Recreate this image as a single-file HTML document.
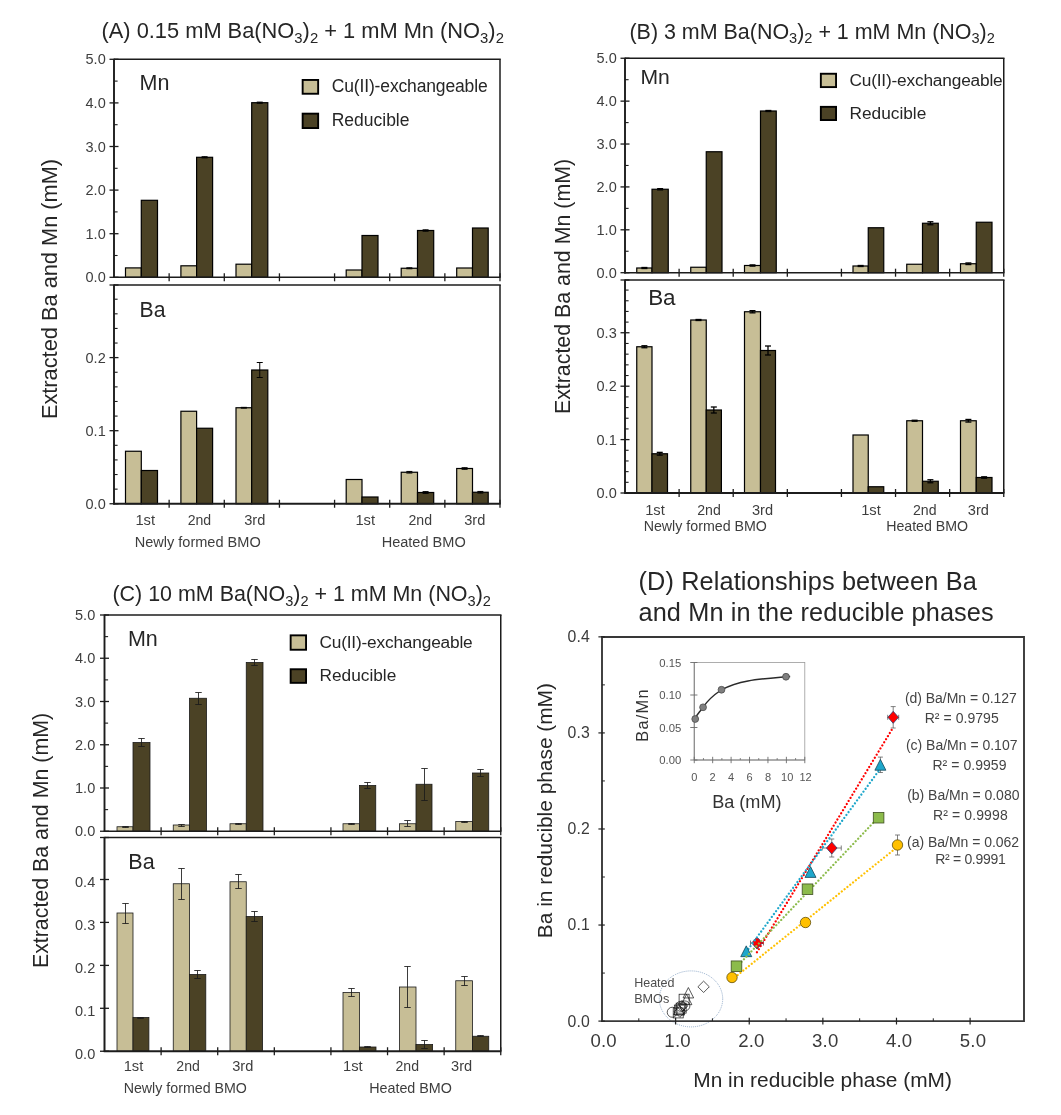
<!DOCTYPE html>
<html lang="en"><head><meta charset="utf-8"><title>Figure</title>
<style>html,body{margin:0;padding:0;background:#fff}svg{display:block}</style></head>
<body>
<svg width="1061" height="1115" viewBox="0 0 1061 1115" font-family="'Liberation Sans', sans-serif">
<rect x="0" y="0" width="1061" height="1115" fill="#ffffff"/>
<g id="panelA">
<text x="101.49" y="38.40" font-size="21.84" fill="#262626" xml:space="preserve"><tspan>(A) 0.15 mM Ba(NO</tspan><tspan font-size="14.85" dy="4.37">3</tspan><tspan dy="-4.37">)</tspan><tspan font-size="14.85" dy="4.37">2</tspan><tspan dy="-4.37"> + 1 mM Mn (NO</tspan><tspan font-size="14.85" dy="4.37">3</tspan><tspan dy="-4.37">)</tspan><tspan font-size="14.85" dy="4.37">2</tspan></text>
<rect x="125.50" y="267.90" width="15.80" height="9.40" fill="#c7be96" stroke="#000" stroke-width="1.2"/>
<rect x="141.30" y="200.30" width="16.20" height="77.00" fill="#4b4225" stroke="#000" stroke-width="1.2"/>
<rect x="180.90" y="265.80" width="15.70" height="11.50" fill="#c7be96" stroke="#000" stroke-width="1.2"/>
<rect x="196.60" y="157.30" width="16.00" height="120.00" fill="#4b4225" stroke="#000" stroke-width="1.2"/>
<line x1="204.60" y1="156.70" x2="204.60" y2="157.90" stroke="#000" stroke-width="1.0"/>
<line x1="201.60" y1="156.70" x2="207.60" y2="156.70" stroke="#000" stroke-width="1.0"/>
<line x1="201.60" y1="157.90" x2="207.60" y2="157.90" stroke="#000" stroke-width="1.0"/>
<rect x="236.00" y="264.20" width="15.70" height="13.10" fill="#c7be96" stroke="#000" stroke-width="1.2"/>
<rect x="251.70" y="102.70" width="16.10" height="174.60" fill="#4b4225" stroke="#000" stroke-width="1.2"/>
<line x1="259.75" y1="102.10" x2="259.75" y2="103.30" stroke="#000" stroke-width="1.0"/>
<line x1="256.75" y1="102.10" x2="262.75" y2="102.10" stroke="#000" stroke-width="1.0"/>
<line x1="256.75" y1="103.30" x2="262.75" y2="103.30" stroke="#000" stroke-width="1.0"/>
<rect x="346.20" y="270.00" width="15.80" height="7.30" fill="#c7be96" stroke="#000" stroke-width="1.2"/>
<rect x="362.00" y="235.50" width="16.00" height="41.80" fill="#4b4225" stroke="#000" stroke-width="1.2"/>
<rect x="401.20" y="268.25" width="16.30" height="9.05" fill="#c7be96" stroke="#000" stroke-width="1.2"/>
<rect x="417.50" y="230.50" width="16.20" height="46.80" fill="#4b4225" stroke="#000" stroke-width="1.2"/>
<line x1="409.35" y1="267.75" x2="409.35" y2="268.75" stroke="#000" stroke-width="1.0"/>
<line x1="406.35" y1="267.75" x2="412.35" y2="267.75" stroke="#000" stroke-width="1.0"/>
<line x1="406.35" y1="268.75" x2="412.35" y2="268.75" stroke="#000" stroke-width="1.0"/>
<line x1="425.60" y1="229.80" x2="425.60" y2="231.20" stroke="#000" stroke-width="1.0"/>
<line x1="422.60" y1="229.80" x2="428.60" y2="229.80" stroke="#000" stroke-width="1.0"/>
<line x1="422.60" y1="231.20" x2="428.60" y2="231.20" stroke="#000" stroke-width="1.0"/>
<rect x="456.70" y="268.00" width="15.80" height="9.30" fill="#c7be96" stroke="#000" stroke-width="1.2"/>
<rect x="472.50" y="228.00" width="15.70" height="49.30" fill="#4b4225" stroke="#000" stroke-width="1.2"/>
<line x1="114.00" y1="59.30" x2="500.75" y2="59.30" stroke="#1c1c1c" stroke-width="1.5"/>
<line x1="500.00" y1="59.30" x2="500.00" y2="277.30" stroke="#1c1c1c" stroke-width="1.5"/>
<line x1="114.00" y1="58.70" x2="114.00" y2="278.05" stroke="#1c1c1c" stroke-width="1.9"/>
<line x1="113.25" y1="277.30" x2="500.60" y2="277.30" stroke="#1c1c1c" stroke-width="1.5"/>
<line x1="169.14" y1="273.30" x2="169.14" y2="281.30" stroke="#1c1c1c" stroke-width="1.3"/>
<line x1="224.29" y1="273.30" x2="224.29" y2="281.30" stroke="#1c1c1c" stroke-width="1.3"/>
<line x1="279.43" y1="273.30" x2="279.43" y2="281.30" stroke="#1c1c1c" stroke-width="1.3"/>
<line x1="334.57" y1="273.30" x2="334.57" y2="281.30" stroke="#1c1c1c" stroke-width="1.3"/>
<line x1="389.71" y1="273.30" x2="389.71" y2="281.30" stroke="#1c1c1c" stroke-width="1.3"/>
<line x1="444.86" y1="273.30" x2="444.86" y2="281.30" stroke="#1c1c1c" stroke-width="1.3"/>
<line x1="500.00" y1="273.30" x2="500.00" y2="281.30" stroke="#1c1c1c" stroke-width="1.3"/>
<line x1="109.50" y1="59.30" x2="118.50" y2="59.30" stroke="#1c1c1c" stroke-width="1.3"/>
<text x="105.72" y="64.40" font-size="14.5" fill="#3e3e3e" text-anchor="end">5.0</text>
<line x1="109.50" y1="102.90" x2="118.50" y2="102.90" stroke="#1c1c1c" stroke-width="1.3"/>
<text x="105.72" y="108.00" font-size="14.5" fill="#3e3e3e" text-anchor="end">4.0</text>
<line x1="109.50" y1="146.50" x2="118.50" y2="146.50" stroke="#1c1c1c" stroke-width="1.3"/>
<text x="105.72" y="151.60" font-size="14.5" fill="#3e3e3e" text-anchor="end">3.0</text>
<line x1="109.50" y1="190.10" x2="118.50" y2="190.10" stroke="#1c1c1c" stroke-width="1.3"/>
<text x="105.72" y="195.20" font-size="14.5" fill="#3e3e3e" text-anchor="end">2.0</text>
<line x1="109.50" y1="233.70" x2="118.50" y2="233.70" stroke="#1c1c1c" stroke-width="1.3"/>
<text x="105.72" y="238.80" font-size="14.5" fill="#3e3e3e" text-anchor="end">1.0</text>
<line x1="109.50" y1="277.30" x2="118.50" y2="277.30" stroke="#1c1c1c" stroke-width="1.3"/>
<text x="105.72" y="282.40" font-size="14.5" fill="#3e3e3e" text-anchor="end">0.0</text>
<line x1="114.00" y1="81.10" x2="117.60" y2="81.10" stroke="#1c1c1c" stroke-width="1.1"/>
<line x1="114.00" y1="124.70" x2="117.60" y2="124.70" stroke="#1c1c1c" stroke-width="1.1"/>
<line x1="114.00" y1="168.30" x2="117.60" y2="168.30" stroke="#1c1c1c" stroke-width="1.1"/>
<line x1="114.00" y1="211.90" x2="117.60" y2="211.90" stroke="#1c1c1c" stroke-width="1.1"/>
<line x1="114.00" y1="255.50" x2="117.60" y2="255.50" stroke="#1c1c1c" stroke-width="1.1"/>
<text x="139.51" y="89.80" font-size="21.5" fill="#262626" text-anchor="start">Mn</text>
<rect x="125.50" y="451.25" width="15.80" height="52.50" fill="#c7be96" stroke="#000" stroke-width="1.2"/>
<rect x="141.30" y="470.50" width="16.20" height="33.25" fill="#4b4225" stroke="#000" stroke-width="1.2"/>
<rect x="180.90" y="411.25" width="15.70" height="92.50" fill="#c7be96" stroke="#000" stroke-width="1.2"/>
<rect x="196.60" y="428.25" width="16.00" height="75.50" fill="#4b4225" stroke="#000" stroke-width="1.2"/>
<rect x="236.00" y="407.75" width="15.70" height="96.00" fill="#c7be96" stroke="#000" stroke-width="1.2"/>
<rect x="251.70" y="370.00" width="16.10" height="133.75" fill="#4b4225" stroke="#000" stroke-width="1.2"/>
<line x1="243.85" y1="407.35" x2="243.85" y2="408.15" stroke="#000" stroke-width="1.0"/>
<line x1="240.85" y1="407.35" x2="246.85" y2="407.35" stroke="#000" stroke-width="1.0"/>
<line x1="240.85" y1="408.15" x2="246.85" y2="408.15" stroke="#000" stroke-width="1.0"/>
<line x1="259.75" y1="362.50" x2="259.75" y2="377.50" stroke="#000" stroke-width="1.0"/>
<line x1="256.75" y1="362.50" x2="262.75" y2="362.50" stroke="#000" stroke-width="1.0"/>
<line x1="256.75" y1="377.50" x2="262.75" y2="377.50" stroke="#000" stroke-width="1.0"/>
<rect x="346.20" y="479.50" width="15.80" height="24.25" fill="#c7be96" stroke="#000" stroke-width="1.2"/>
<rect x="362.00" y="497.00" width="16.00" height="6.75" fill="#4b4225" stroke="#000" stroke-width="1.2"/>
<rect x="401.20" y="472.25" width="16.30" height="31.50" fill="#c7be96" stroke="#000" stroke-width="1.2"/>
<rect x="417.50" y="492.50" width="16.20" height="11.25" fill="#4b4225" stroke="#000" stroke-width="1.2"/>
<line x1="409.35" y1="471.45" x2="409.35" y2="473.05" stroke="#000" stroke-width="1.0"/>
<line x1="406.35" y1="471.45" x2="412.35" y2="471.45" stroke="#000" stroke-width="1.0"/>
<line x1="406.35" y1="473.05" x2="412.35" y2="473.05" stroke="#000" stroke-width="1.0"/>
<line x1="425.60" y1="491.60" x2="425.60" y2="493.40" stroke="#000" stroke-width="1.0"/>
<line x1="422.60" y1="491.60" x2="428.60" y2="491.60" stroke="#000" stroke-width="1.0"/>
<line x1="422.60" y1="493.40" x2="428.60" y2="493.40" stroke="#000" stroke-width="1.0"/>
<rect x="456.70" y="468.50" width="15.80" height="35.25" fill="#c7be96" stroke="#000" stroke-width="1.2"/>
<rect x="472.50" y="492.25" width="15.70" height="11.50" fill="#4b4225" stroke="#000" stroke-width="1.2"/>
<line x1="464.60" y1="467.70" x2="464.60" y2="469.30" stroke="#000" stroke-width="1.0"/>
<line x1="461.60" y1="467.70" x2="467.60" y2="467.70" stroke="#000" stroke-width="1.0"/>
<line x1="461.60" y1="469.30" x2="467.60" y2="469.30" stroke="#000" stroke-width="1.0"/>
<line x1="480.35" y1="491.45" x2="480.35" y2="493.05" stroke="#000" stroke-width="1.0"/>
<line x1="477.35" y1="491.45" x2="483.35" y2="491.45" stroke="#000" stroke-width="1.0"/>
<line x1="477.35" y1="493.05" x2="483.35" y2="493.05" stroke="#000" stroke-width="1.0"/>
<line x1="114.00" y1="285.00" x2="500.75" y2="285.00" stroke="#1c1c1c" stroke-width="1.5"/>
<line x1="500.00" y1="285.00" x2="500.00" y2="503.75" stroke="#1c1c1c" stroke-width="1.5"/>
<line x1="114.00" y1="284.40" x2="114.00" y2="504.50" stroke="#1c1c1c" stroke-width="1.9"/>
<line x1="113.25" y1="503.75" x2="500.60" y2="503.75" stroke="#1c1c1c" stroke-width="1.8"/>
<line x1="169.14" y1="499.75" x2="169.14" y2="507.75" stroke="#1c1c1c" stroke-width="1.3"/>
<line x1="224.29" y1="499.75" x2="224.29" y2="507.75" stroke="#1c1c1c" stroke-width="1.3"/>
<line x1="279.43" y1="499.75" x2="279.43" y2="507.75" stroke="#1c1c1c" stroke-width="1.3"/>
<line x1="334.57" y1="499.75" x2="334.57" y2="507.75" stroke="#1c1c1c" stroke-width="1.3"/>
<line x1="389.71" y1="499.75" x2="389.71" y2="507.75" stroke="#1c1c1c" stroke-width="1.3"/>
<line x1="444.86" y1="499.75" x2="444.86" y2="507.75" stroke="#1c1c1c" stroke-width="1.3"/>
<line x1="500.00" y1="499.75" x2="500.00" y2="507.75" stroke="#1c1c1c" stroke-width="1.3"/>
<line x1="109.50" y1="357.60" x2="118.50" y2="357.60" stroke="#1c1c1c" stroke-width="1.3"/>
<text x="105.72" y="362.70" font-size="14.5" fill="#3e3e3e" text-anchor="end">0.2</text>
<line x1="109.50" y1="430.70" x2="118.50" y2="430.70" stroke="#1c1c1c" stroke-width="1.3"/>
<text x="105.72" y="435.80" font-size="14.5" fill="#3e3e3e" text-anchor="end">0.1</text>
<line x1="109.50" y1="503.75" x2="118.50" y2="503.75" stroke="#1c1c1c" stroke-width="1.3"/>
<text x="105.72" y="508.85" font-size="14.5" fill="#3e3e3e" text-anchor="end">0.0</text>
<line x1="109.50" y1="285.00" x2="118.50" y2="285.00" stroke="#1c1c1c" stroke-width="1.3"/>
<line x1="114.00" y1="489.14" x2="117.60" y2="489.14" stroke="#1c1c1c" stroke-width="1.1"/>
<line x1="114.00" y1="474.53" x2="117.60" y2="474.53" stroke="#1c1c1c" stroke-width="1.1"/>
<line x1="114.00" y1="459.92" x2="117.60" y2="459.92" stroke="#1c1c1c" stroke-width="1.1"/>
<line x1="114.00" y1="445.31" x2="117.60" y2="445.31" stroke="#1c1c1c" stroke-width="1.1"/>
<line x1="114.00" y1="416.09" x2="117.60" y2="416.09" stroke="#1c1c1c" stroke-width="1.1"/>
<line x1="114.00" y1="401.48" x2="117.60" y2="401.48" stroke="#1c1c1c" stroke-width="1.1"/>
<line x1="114.00" y1="386.87" x2="117.60" y2="386.87" stroke="#1c1c1c" stroke-width="1.1"/>
<line x1="114.00" y1="372.26" x2="117.60" y2="372.26" stroke="#1c1c1c" stroke-width="1.1"/>
<line x1="114.00" y1="343.04" x2="117.60" y2="343.04" stroke="#1c1c1c" stroke-width="1.1"/>
<line x1="114.00" y1="328.43" x2="117.60" y2="328.43" stroke="#1c1c1c" stroke-width="1.1"/>
<line x1="114.00" y1="313.82" x2="117.60" y2="313.82" stroke="#1c1c1c" stroke-width="1.1"/>
<line x1="114.00" y1="299.21" x2="117.60" y2="299.21" stroke="#1c1c1c" stroke-width="1.1"/>
<text x="139.53" y="317.00" font-size="21.2" fill="#262626" text-anchor="start">Ba</text>
<rect x="302.65" y="79.95" width="15.50" height="13.80" fill="#c7be96" stroke="#000" stroke-width="1.9"/>
<rect x="302.65" y="113.65" width="15.50" height="14.40" fill="#4b4225" stroke="#000" stroke-width="1.9"/>
<text x="331.75" y="91.90" font-size="17.5" fill="#262626" text-anchor="start" letter-spacing="-0.146">Cu(II)-exchangeable</text>
<text x="331.75" y="126.10" font-size="17.5" fill="#262626" text-anchor="start" letter-spacing="-0.013">Reducible</text>
<text x="145.25" y="525.00" font-size="14.71" fill="#3e3e3e" text-anchor="middle">1st</text>
<text x="199.40" y="525.00" font-size="14.12" fill="#3e3e3e" text-anchor="middle">2nd</text>
<text x="254.75" y="525.00" font-size="14.6" fill="#3e3e3e" text-anchor="middle">3rd</text>
<text x="365.25" y="525.00" font-size="14.71" fill="#3e3e3e" text-anchor="middle">1st</text>
<text x="420.25" y="525.00" font-size="14.12" fill="#3e3e3e" text-anchor="middle">2nd</text>
<text x="474.75" y="525.00" font-size="14.6" fill="#3e3e3e" text-anchor="middle">3rd</text>
<text x="134.63" y="547.00" font-size="14.55" fill="#3e3e3e" text-anchor="start">Newly formed BMO</text>
<text x="381.63" y="547.00" font-size="14.55" fill="#3e3e3e" text-anchor="start">Heated BMO</text>
<text x="56.70" y="289.00" font-size="21.79" fill="#262626" text-anchor="middle" transform="rotate(-90 56.70 289.00)">Extracted Ba and Mn (mM)</text>
</g>
<g id="panelB">
<text x="629.46" y="38.50" font-size="21.44" fill="#262626" xml:space="preserve"><tspan>(B) 3 mM Ba(NO</tspan><tspan font-size="14.58" dy="4.29">3</tspan><tspan dy="-4.29">)</tspan><tspan font-size="14.58" dy="4.29">2</tspan><tspan dy="-4.29"> + 1 mM Mn (NO</tspan><tspan font-size="14.58" dy="4.29">3</tspan><tspan dy="-4.29">)</tspan><tspan font-size="14.58" dy="4.29">2</tspan></text>
<rect x="636.75" y="268.00" width="15.25" height="4.70" fill="#c7be96" stroke="#000" stroke-width="1.2"/>
<rect x="652.00" y="189.25" width="16.25" height="83.45" fill="#4b4225" stroke="#000" stroke-width="1.2"/>
<line x1="644.38" y1="267.50" x2="644.38" y2="268.50" stroke="#000" stroke-width="1.3"/>
<line x1="641.38" y1="267.50" x2="647.38" y2="267.50" stroke="#000" stroke-width="1.3"/>
<line x1="641.38" y1="268.50" x2="647.38" y2="268.50" stroke="#000" stroke-width="1.3"/>
<line x1="660.12" y1="188.65" x2="660.12" y2="189.85" stroke="#000" stroke-width="1.3"/>
<line x1="657.12" y1="188.65" x2="663.12" y2="188.65" stroke="#000" stroke-width="1.3"/>
<line x1="657.12" y1="189.85" x2="663.12" y2="189.85" stroke="#000" stroke-width="1.3"/>
<rect x="690.75" y="267.25" width="15.50" height="5.45" fill="#c7be96" stroke="#000" stroke-width="1.2"/>
<rect x="706.25" y="151.75" width="15.75" height="120.95" fill="#4b4225" stroke="#000" stroke-width="1.2"/>
<rect x="744.50" y="265.50" width="16.00" height="7.20" fill="#c7be96" stroke="#000" stroke-width="1.2"/>
<rect x="760.50" y="111.00" width="15.75" height="161.70" fill="#4b4225" stroke="#000" stroke-width="1.2"/>
<line x1="752.50" y1="264.90" x2="752.50" y2="266.10" stroke="#000" stroke-width="1.3"/>
<line x1="749.50" y1="264.90" x2="755.50" y2="264.90" stroke="#000" stroke-width="1.3"/>
<line x1="749.50" y1="266.10" x2="755.50" y2="266.10" stroke="#000" stroke-width="1.3"/>
<line x1="768.38" y1="110.50" x2="768.38" y2="111.50" stroke="#000" stroke-width="1.3"/>
<line x1="765.38" y1="110.50" x2="771.38" y2="110.50" stroke="#000" stroke-width="1.3"/>
<line x1="765.38" y1="111.50" x2="771.38" y2="111.50" stroke="#000" stroke-width="1.3"/>
<rect x="853.00" y="266.00" width="15.25" height="6.70" fill="#c7be96" stroke="#000" stroke-width="1.2"/>
<rect x="868.25" y="227.75" width="15.50" height="44.95" fill="#4b4225" stroke="#000" stroke-width="1.2"/>
<line x1="860.62" y1="265.50" x2="860.62" y2="266.50" stroke="#000" stroke-width="1.3"/>
<line x1="857.62" y1="265.50" x2="863.62" y2="265.50" stroke="#000" stroke-width="1.3"/>
<line x1="857.62" y1="266.50" x2="863.62" y2="266.50" stroke="#000" stroke-width="1.3"/>
<rect x="906.75" y="264.25" width="15.75" height="8.45" fill="#c7be96" stroke="#000" stroke-width="1.2"/>
<rect x="922.50" y="223.25" width="15.75" height="49.45" fill="#4b4225" stroke="#000" stroke-width="1.2"/>
<line x1="930.38" y1="221.75" x2="930.38" y2="224.75" stroke="#000" stroke-width="1.3"/>
<line x1="927.38" y1="221.75" x2="933.38" y2="221.75" stroke="#000" stroke-width="1.3"/>
<line x1="927.38" y1="224.75" x2="933.38" y2="224.75" stroke="#000" stroke-width="1.3"/>
<rect x="960.50" y="263.75" width="15.75" height="8.95" fill="#c7be96" stroke="#000" stroke-width="1.2"/>
<rect x="976.25" y="222.25" width="15.75" height="50.45" fill="#4b4225" stroke="#000" stroke-width="1.2"/>
<line x1="968.38" y1="262.95" x2="968.38" y2="264.55" stroke="#000" stroke-width="1.3"/>
<line x1="965.38" y1="262.95" x2="971.38" y2="262.95" stroke="#000" stroke-width="1.3"/>
<line x1="965.38" y1="264.55" x2="971.38" y2="264.55" stroke="#000" stroke-width="1.3"/>
<line x1="625.00" y1="58.25" x2="1004.50" y2="58.25" stroke="#1c1c1c" stroke-width="1.5"/>
<line x1="1003.75" y1="58.25" x2="1003.75" y2="272.70" stroke="#1c1c1c" stroke-width="1.5"/>
<line x1="625.00" y1="57.65" x2="625.00" y2="273.45" stroke="#1c1c1c" stroke-width="1.9"/>
<line x1="624.25" y1="272.70" x2="1004.35" y2="272.70" stroke="#1c1c1c" stroke-width="1.5"/>
<line x1="679.11" y1="268.70" x2="679.11" y2="276.70" stroke="#1c1c1c" stroke-width="1.3"/>
<line x1="733.21" y1="268.70" x2="733.21" y2="276.70" stroke="#1c1c1c" stroke-width="1.3"/>
<line x1="787.32" y1="268.70" x2="787.32" y2="276.70" stroke="#1c1c1c" stroke-width="1.3"/>
<line x1="841.43" y1="268.70" x2="841.43" y2="276.70" stroke="#1c1c1c" stroke-width="1.3"/>
<line x1="895.54" y1="268.70" x2="895.54" y2="276.70" stroke="#1c1c1c" stroke-width="1.3"/>
<line x1="949.64" y1="268.70" x2="949.64" y2="276.70" stroke="#1c1c1c" stroke-width="1.3"/>
<line x1="1003.75" y1="268.70" x2="1003.75" y2="276.70" stroke="#1c1c1c" stroke-width="1.3"/>
<line x1="620.50" y1="58.25" x2="629.50" y2="58.25" stroke="#1c1c1c" stroke-width="1.3"/>
<text x="616.73" y="63.35" font-size="14.5" fill="#3e3e3e" text-anchor="end">5.0</text>
<line x1="620.50" y1="101.14" x2="629.50" y2="101.14" stroke="#1c1c1c" stroke-width="1.3"/>
<text x="616.73" y="106.24" font-size="14.5" fill="#3e3e3e" text-anchor="end">4.0</text>
<line x1="620.50" y1="144.03" x2="629.50" y2="144.03" stroke="#1c1c1c" stroke-width="1.3"/>
<text x="616.73" y="149.13" font-size="14.5" fill="#3e3e3e" text-anchor="end">3.0</text>
<line x1="620.50" y1="186.92" x2="629.50" y2="186.92" stroke="#1c1c1c" stroke-width="1.3"/>
<text x="616.73" y="192.02" font-size="14.5" fill="#3e3e3e" text-anchor="end">2.0</text>
<line x1="620.50" y1="229.81" x2="629.50" y2="229.81" stroke="#1c1c1c" stroke-width="1.3"/>
<text x="616.73" y="234.91" font-size="14.5" fill="#3e3e3e" text-anchor="end">1.0</text>
<line x1="620.50" y1="272.70" x2="629.50" y2="272.70" stroke="#1c1c1c" stroke-width="1.3"/>
<text x="616.73" y="277.80" font-size="14.5" fill="#3e3e3e" text-anchor="end">0.0</text>
<line x1="625.00" y1="79.69" x2="628.60" y2="79.69" stroke="#1c1c1c" stroke-width="1.1"/>
<line x1="625.00" y1="122.59" x2="628.60" y2="122.59" stroke="#1c1c1c" stroke-width="1.1"/>
<line x1="625.00" y1="165.47" x2="628.60" y2="165.47" stroke="#1c1c1c" stroke-width="1.1"/>
<line x1="625.00" y1="208.37" x2="628.60" y2="208.37" stroke="#1c1c1c" stroke-width="1.1"/>
<line x1="625.00" y1="251.25" x2="628.60" y2="251.25" stroke="#1c1c1c" stroke-width="1.1"/>
<text x="640.48" y="83.75" font-size="21.11" fill="#262626" text-anchor="start">Mn</text>
<rect x="636.75" y="346.75" width="15.25" height="146.25" fill="#c7be96" stroke="#000" stroke-width="1.2"/>
<rect x="652.00" y="453.75" width="15.50" height="39.25" fill="#4b4225" stroke="#000" stroke-width="1.2"/>
<line x1="644.38" y1="345.75" x2="644.38" y2="347.75" stroke="#000" stroke-width="1.3"/>
<line x1="641.38" y1="345.75" x2="647.38" y2="345.75" stroke="#000" stroke-width="1.3"/>
<line x1="641.38" y1="347.75" x2="647.38" y2="347.75" stroke="#000" stroke-width="1.3"/>
<line x1="659.75" y1="452.35" x2="659.75" y2="455.15" stroke="#000" stroke-width="1.3"/>
<line x1="656.75" y1="452.35" x2="662.75" y2="452.35" stroke="#000" stroke-width="1.3"/>
<line x1="656.75" y1="455.15" x2="662.75" y2="455.15" stroke="#000" stroke-width="1.3"/>
<rect x="690.75" y="320.00" width="15.50" height="173.00" fill="#c7be96" stroke="#000" stroke-width="1.2"/>
<rect x="706.25" y="410.00" width="15.15" height="83.00" fill="#4b4225" stroke="#000" stroke-width="1.2"/>
<line x1="698.50" y1="319.50" x2="698.50" y2="320.50" stroke="#000" stroke-width="1.3"/>
<line x1="695.50" y1="319.50" x2="701.50" y2="319.50" stroke="#000" stroke-width="1.3"/>
<line x1="695.50" y1="320.50" x2="701.50" y2="320.50" stroke="#000" stroke-width="1.3"/>
<line x1="713.83" y1="407.00" x2="713.83" y2="413.00" stroke="#000" stroke-width="1.3"/>
<line x1="710.83" y1="407.00" x2="716.83" y2="407.00" stroke="#000" stroke-width="1.3"/>
<line x1="710.83" y1="413.00" x2="716.83" y2="413.00" stroke="#000" stroke-width="1.3"/>
<rect x="744.50" y="311.75" width="16.00" height="181.25" fill="#c7be96" stroke="#000" stroke-width="1.2"/>
<rect x="760.50" y="350.50" width="15.00" height="142.50" fill="#4b4225" stroke="#000" stroke-width="1.2"/>
<line x1="752.50" y1="310.65" x2="752.50" y2="312.85" stroke="#000" stroke-width="1.3"/>
<line x1="749.50" y1="310.65" x2="755.50" y2="310.65" stroke="#000" stroke-width="1.3"/>
<line x1="749.50" y1="312.85" x2="755.50" y2="312.85" stroke="#000" stroke-width="1.3"/>
<line x1="768.00" y1="346.00" x2="768.00" y2="355.00" stroke="#000" stroke-width="1.3"/>
<line x1="765.00" y1="346.00" x2="771.00" y2="346.00" stroke="#000" stroke-width="1.3"/>
<line x1="765.00" y1="355.00" x2="771.00" y2="355.00" stroke="#000" stroke-width="1.3"/>
<rect x="853.00" y="435.00" width="15.25" height="58.00" fill="#c7be96" stroke="#000" stroke-width="1.2"/>
<rect x="868.25" y="486.75" width="15.50" height="6.25" fill="#4b4225" stroke="#000" stroke-width="1.2"/>
<rect x="906.75" y="420.75" width="15.75" height="72.25" fill="#c7be96" stroke="#000" stroke-width="1.2"/>
<rect x="922.50" y="481.25" width="15.75" height="11.75" fill="#4b4225" stroke="#000" stroke-width="1.2"/>
<line x1="914.62" y1="420.25" x2="914.62" y2="421.25" stroke="#000" stroke-width="1.3"/>
<line x1="911.62" y1="420.25" x2="917.62" y2="420.25" stroke="#000" stroke-width="1.3"/>
<line x1="911.62" y1="421.25" x2="917.62" y2="421.25" stroke="#000" stroke-width="1.3"/>
<line x1="930.38" y1="479.75" x2="930.38" y2="482.75" stroke="#000" stroke-width="1.3"/>
<line x1="927.38" y1="479.75" x2="933.38" y2="479.75" stroke="#000" stroke-width="1.3"/>
<line x1="927.38" y1="482.75" x2="933.38" y2="482.75" stroke="#000" stroke-width="1.3"/>
<rect x="960.50" y="420.75" width="15.75" height="72.25" fill="#c7be96" stroke="#000" stroke-width="1.2"/>
<rect x="976.25" y="477.50" width="15.75" height="15.50" fill="#4b4225" stroke="#000" stroke-width="1.2"/>
<line x1="968.38" y1="419.45" x2="968.38" y2="422.05" stroke="#000" stroke-width="1.3"/>
<line x1="965.38" y1="419.45" x2="971.38" y2="419.45" stroke="#000" stroke-width="1.3"/>
<line x1="965.38" y1="422.05" x2="971.38" y2="422.05" stroke="#000" stroke-width="1.3"/>
<line x1="984.12" y1="476.80" x2="984.12" y2="478.20" stroke="#000" stroke-width="1.3"/>
<line x1="981.12" y1="476.80" x2="987.12" y2="476.80" stroke="#000" stroke-width="1.3"/>
<line x1="981.12" y1="478.20" x2="987.12" y2="478.20" stroke="#000" stroke-width="1.3"/>
<line x1="625.00" y1="280.00" x2="1004.50" y2="280.00" stroke="#1c1c1c" stroke-width="1.5"/>
<line x1="1003.75" y1="280.00" x2="1003.75" y2="493.00" stroke="#1c1c1c" stroke-width="1.5"/>
<line x1="625.00" y1="279.40" x2="625.00" y2="493.75" stroke="#1c1c1c" stroke-width="1.9"/>
<line x1="624.25" y1="493.00" x2="1004.35" y2="493.00" stroke="#1c1c1c" stroke-width="1.8"/>
<line x1="679.11" y1="489.00" x2="679.11" y2="497.00" stroke="#1c1c1c" stroke-width="1.3"/>
<line x1="733.21" y1="489.00" x2="733.21" y2="497.00" stroke="#1c1c1c" stroke-width="1.3"/>
<line x1="787.32" y1="489.00" x2="787.32" y2="497.00" stroke="#1c1c1c" stroke-width="1.3"/>
<line x1="841.43" y1="489.00" x2="841.43" y2="497.00" stroke="#1c1c1c" stroke-width="1.3"/>
<line x1="895.54" y1="489.00" x2="895.54" y2="497.00" stroke="#1c1c1c" stroke-width="1.3"/>
<line x1="949.64" y1="489.00" x2="949.64" y2="497.00" stroke="#1c1c1c" stroke-width="1.3"/>
<line x1="1003.75" y1="489.00" x2="1003.75" y2="497.00" stroke="#1c1c1c" stroke-width="1.3"/>
<line x1="620.50" y1="332.75" x2="629.50" y2="332.75" stroke="#1c1c1c" stroke-width="1.3"/>
<text x="616.73" y="337.85" font-size="14.5" fill="#3e3e3e" text-anchor="end">0.3</text>
<line x1="620.50" y1="386.20" x2="629.50" y2="386.20" stroke="#1c1c1c" stroke-width="1.3"/>
<text x="616.73" y="391.30" font-size="14.5" fill="#3e3e3e" text-anchor="end">0.2</text>
<line x1="620.50" y1="439.60" x2="629.50" y2="439.60" stroke="#1c1c1c" stroke-width="1.3"/>
<text x="616.73" y="444.70" font-size="14.5" fill="#3e3e3e" text-anchor="end">0.1</text>
<line x1="620.50" y1="493.00" x2="629.50" y2="493.00" stroke="#1c1c1c" stroke-width="1.3"/>
<text x="616.73" y="498.10" font-size="14.5" fill="#3e3e3e" text-anchor="end">0.0</text>
<line x1="620.50" y1="280.00" x2="629.50" y2="280.00" stroke="#1c1c1c" stroke-width="1.3"/>
<line x1="625.00" y1="482.32" x2="628.60" y2="482.32" stroke="#1c1c1c" stroke-width="1.1"/>
<line x1="625.00" y1="471.64" x2="628.60" y2="471.64" stroke="#1c1c1c" stroke-width="1.1"/>
<line x1="625.00" y1="460.96" x2="628.60" y2="460.96" stroke="#1c1c1c" stroke-width="1.1"/>
<line x1="625.00" y1="450.28" x2="628.60" y2="450.28" stroke="#1c1c1c" stroke-width="1.1"/>
<line x1="625.00" y1="428.92" x2="628.60" y2="428.92" stroke="#1c1c1c" stroke-width="1.1"/>
<line x1="625.00" y1="418.24" x2="628.60" y2="418.24" stroke="#1c1c1c" stroke-width="1.1"/>
<line x1="625.00" y1="407.56" x2="628.60" y2="407.56" stroke="#1c1c1c" stroke-width="1.1"/>
<line x1="625.00" y1="396.88" x2="628.60" y2="396.88" stroke="#1c1c1c" stroke-width="1.1"/>
<line x1="625.00" y1="375.52" x2="628.60" y2="375.52" stroke="#1c1c1c" stroke-width="1.1"/>
<line x1="625.00" y1="364.84" x2="628.60" y2="364.84" stroke="#1c1c1c" stroke-width="1.1"/>
<line x1="625.00" y1="354.16" x2="628.60" y2="354.16" stroke="#1c1c1c" stroke-width="1.1"/>
<line x1="625.00" y1="343.48" x2="628.60" y2="343.48" stroke="#1c1c1c" stroke-width="1.1"/>
<line x1="625.00" y1="322.12" x2="628.60" y2="322.12" stroke="#1c1c1c" stroke-width="1.1"/>
<line x1="625.00" y1="311.44" x2="628.60" y2="311.44" stroke="#1c1c1c" stroke-width="1.1"/>
<line x1="625.00" y1="300.76" x2="628.60" y2="300.76" stroke="#1c1c1c" stroke-width="1.1"/>
<line x1="625.00" y1="290.08" x2="628.60" y2="290.08" stroke="#1c1c1c" stroke-width="1.1"/>
<text x="648.15" y="305.00" font-size="22.46" fill="#262626" text-anchor="start">Ba</text>
<rect x="820.85" y="73.75" width="15.20" height="13.35" fill="#c7be96" stroke="#000" stroke-width="1.9"/>
<rect x="820.85" y="106.85" width="15.20" height="13.20" fill="#4b4225" stroke="#000" stroke-width="1.9"/>
<text x="849.46" y="85.60" font-size="17.3" fill="#262626" text-anchor="start" letter-spacing="-0.186">Cu(II)-exchangeable</text>
<text x="849.46" y="118.80" font-size="17.3" fill="#262626" text-anchor="start" letter-spacing="-0.004">Reducible</text>
<text x="655.00" y="515.00" font-size="14.71" fill="#3e3e3e" text-anchor="middle">1st</text>
<text x="709.00" y="515.00" font-size="14.12" fill="#3e3e3e" text-anchor="middle">2nd</text>
<text x="762.50" y="515.00" font-size="14.6" fill="#3e3e3e" text-anchor="middle">3rd</text>
<text x="871.00" y="515.00" font-size="14.71" fill="#3e3e3e" text-anchor="middle">1st</text>
<text x="924.75" y="515.00" font-size="14.12" fill="#3e3e3e" text-anchor="middle">2nd</text>
<text x="978.40" y="515.00" font-size="14.6" fill="#3e3e3e" text-anchor="middle">3rd</text>
<text x="643.65" y="530.75" font-size="14.23" fill="#3e3e3e" text-anchor="start">Newly formed BMO</text>
<text x="886.15" y="530.75" font-size="14.2" fill="#3e3e3e" text-anchor="start">Heated BMO</text>
<text x="569.50" y="286.50" font-size="21.37" fill="#262626" text-anchor="middle" transform="rotate(-90 569.50 286.50)">Extracted Ba and Mn (mM)</text>
</g>
<g id="panelC">
<text x="112.46" y="601.25" font-size="21.45" fill="#262626" xml:space="preserve"><tspan>(C) 10 mM Ba(NO</tspan><tspan font-size="14.59" dy="4.29">3</tspan><tspan dy="-4.29">)</tspan><tspan font-size="14.59" dy="4.29">2</tspan><tspan dy="-4.29"> + 1 mM Mn (NO</tspan><tspan font-size="14.59" dy="4.29">3</tspan><tspan dy="-4.29">)</tspan><tspan font-size="14.59" dy="4.29">2</tspan></text>
<rect x="117.00" y="826.75" width="16.00" height="4.50" fill="#c7be96" stroke="#1a1a1a" stroke-width="0.8"/>
<rect x="133.00" y="742.50" width="17.00" height="88.75" fill="#4b4225" stroke="#1a1a1a" stroke-width="0.8"/>
<line x1="125.50" y1="826.50" x2="125.50" y2="827.50" stroke="#1a1a1a" stroke-width="0.85"/>
<line x1="122.25" y1="826.50" x2="128.75" y2="826.50" stroke="#1a1a1a" stroke-width="0.85"/>
<line x1="122.25" y1="827.50" x2="128.75" y2="827.50" stroke="#1a1a1a" stroke-width="0.85"/>
<line x1="141.50" y1="738.50" x2="141.50" y2="746.50" stroke="#1a1a1a" stroke-width="0.85"/>
<line x1="138.25" y1="738.50" x2="144.75" y2="738.50" stroke="#1a1a1a" stroke-width="0.85"/>
<line x1="138.25" y1="746.50" x2="144.75" y2="746.50" stroke="#1a1a1a" stroke-width="0.85"/>
<rect x="173.25" y="825.00" width="16.25" height="6.25" fill="#c7be96" stroke="#1a1a1a" stroke-width="0.8"/>
<rect x="189.50" y="698.25" width="17.00" height="133.00" fill="#4b4225" stroke="#1a1a1a" stroke-width="0.8"/>
<line x1="181.50" y1="824.50" x2="181.50" y2="826.50" stroke="#1a1a1a" stroke-width="0.85"/>
<line x1="178.25" y1="824.50" x2="184.75" y2="824.50" stroke="#1a1a1a" stroke-width="0.85"/>
<line x1="178.25" y1="826.50" x2="184.75" y2="826.50" stroke="#1a1a1a" stroke-width="0.85"/>
<line x1="198.50" y1="692.50" x2="198.50" y2="704.50" stroke="#1a1a1a" stroke-width="0.85"/>
<line x1="195.25" y1="692.50" x2="201.75" y2="692.50" stroke="#1a1a1a" stroke-width="0.85"/>
<line x1="195.25" y1="704.50" x2="201.75" y2="704.50" stroke="#1a1a1a" stroke-width="0.85"/>
<rect x="230.00" y="823.75" width="16.25" height="7.50" fill="#c7be96" stroke="#1a1a1a" stroke-width="0.8"/>
<rect x="246.25" y="662.50" width="16.75" height="168.75" fill="#4b4225" stroke="#1a1a1a" stroke-width="0.8"/>
<line x1="238.50" y1="823.50" x2="238.50" y2="824.50" stroke="#1a1a1a" stroke-width="0.85"/>
<line x1="235.25" y1="823.50" x2="241.75" y2="823.50" stroke="#1a1a1a" stroke-width="0.85"/>
<line x1="235.25" y1="824.50" x2="241.75" y2="824.50" stroke="#1a1a1a" stroke-width="0.85"/>
<line x1="254.50" y1="659.50" x2="254.50" y2="665.50" stroke="#1a1a1a" stroke-width="0.85"/>
<line x1="251.25" y1="659.50" x2="257.75" y2="659.50" stroke="#1a1a1a" stroke-width="0.85"/>
<line x1="251.25" y1="665.50" x2="257.75" y2="665.50" stroke="#1a1a1a" stroke-width="0.85"/>
<rect x="343.00" y="823.75" width="16.50" height="7.50" fill="#c7be96" stroke="#1a1a1a" stroke-width="0.8"/>
<rect x="359.50" y="785.50" width="16.25" height="45.75" fill="#4b4225" stroke="#1a1a1a" stroke-width="0.8"/>
<line x1="351.50" y1="823.50" x2="351.50" y2="824.50" stroke="#1a1a1a" stroke-width="0.85"/>
<line x1="348.25" y1="823.50" x2="354.75" y2="823.50" stroke="#1a1a1a" stroke-width="0.85"/>
<line x1="348.25" y1="824.50" x2="354.75" y2="824.50" stroke="#1a1a1a" stroke-width="0.85"/>
<line x1="367.50" y1="782.50" x2="367.50" y2="788.50" stroke="#1a1a1a" stroke-width="0.85"/>
<line x1="364.25" y1="782.50" x2="370.75" y2="782.50" stroke="#1a1a1a" stroke-width="0.85"/>
<line x1="364.25" y1="788.50" x2="370.75" y2="788.50" stroke="#1a1a1a" stroke-width="0.85"/>
<rect x="399.50" y="823.75" width="16.50" height="7.50" fill="#c7be96" stroke="#1a1a1a" stroke-width="0.8"/>
<rect x="416.00" y="784.25" width="16.00" height="47.00" fill="#4b4225" stroke="#1a1a1a" stroke-width="0.8"/>
<line x1="407.50" y1="820.50" x2="407.50" y2="826.50" stroke="#1a1a1a" stroke-width="0.85"/>
<line x1="404.25" y1="820.50" x2="410.75" y2="820.50" stroke="#1a1a1a" stroke-width="0.85"/>
<line x1="404.25" y1="826.50" x2="410.75" y2="826.50" stroke="#1a1a1a" stroke-width="0.85"/>
<line x1="424.50" y1="768.50" x2="424.50" y2="800.50" stroke="#1a1a1a" stroke-width="0.85"/>
<line x1="421.25" y1="768.50" x2="427.75" y2="768.50" stroke="#1a1a1a" stroke-width="0.85"/>
<line x1="421.25" y1="800.50" x2="427.75" y2="800.50" stroke="#1a1a1a" stroke-width="0.85"/>
<rect x="455.75" y="821.50" width="16.75" height="9.75" fill="#c7be96" stroke="#1a1a1a" stroke-width="0.8"/>
<rect x="472.50" y="773.00" width="16.25" height="58.25" fill="#4b4225" stroke="#1a1a1a" stroke-width="0.8"/>
<line x1="464.50" y1="821.50" x2="464.50" y2="822.50" stroke="#1a1a1a" stroke-width="0.85"/>
<line x1="461.25" y1="821.50" x2="467.75" y2="821.50" stroke="#1a1a1a" stroke-width="0.85"/>
<line x1="461.25" y1="822.50" x2="467.75" y2="822.50" stroke="#1a1a1a" stroke-width="0.85"/>
<line x1="480.50" y1="769.50" x2="480.50" y2="776.50" stroke="#1a1a1a" stroke-width="0.85"/>
<line x1="477.25" y1="769.50" x2="483.75" y2="769.50" stroke="#1a1a1a" stroke-width="0.85"/>
<line x1="477.25" y1="776.50" x2="483.75" y2="776.50" stroke="#1a1a1a" stroke-width="0.85"/>
<line x1="104.50" y1="615.00" x2="501.50" y2="615.00" stroke="#1c1c1c" stroke-width="1.5"/>
<line x1="500.75" y1="615.00" x2="500.75" y2="831.25" stroke="#1c1c1c" stroke-width="1.5"/>
<line x1="104.50" y1="614.40" x2="104.50" y2="832.00" stroke="#1c1c1c" stroke-width="1.9"/>
<line x1="103.75" y1="831.25" x2="501.35" y2="831.25" stroke="#1c1c1c" stroke-width="1.5"/>
<line x1="161.11" y1="827.25" x2="161.11" y2="835.25" stroke="#1c1c1c" stroke-width="1.3"/>
<line x1="217.71" y1="827.25" x2="217.71" y2="835.25" stroke="#1c1c1c" stroke-width="1.3"/>
<line x1="274.32" y1="827.25" x2="274.32" y2="835.25" stroke="#1c1c1c" stroke-width="1.3"/>
<line x1="330.93" y1="827.25" x2="330.93" y2="835.25" stroke="#1c1c1c" stroke-width="1.3"/>
<line x1="387.54" y1="827.25" x2="387.54" y2="835.25" stroke="#1c1c1c" stroke-width="1.3"/>
<line x1="444.14" y1="827.25" x2="444.14" y2="835.25" stroke="#1c1c1c" stroke-width="1.3"/>
<line x1="500.75" y1="827.25" x2="500.75" y2="835.25" stroke="#1c1c1c" stroke-width="1.3"/>
<line x1="100.00" y1="615.00" x2="109.00" y2="615.00" stroke="#1c1c1c" stroke-width="1.3"/>
<text x="95.22" y="620.10" font-size="14.5" fill="#3e3e3e" text-anchor="end">5.0</text>
<line x1="100.00" y1="658.25" x2="109.00" y2="658.25" stroke="#1c1c1c" stroke-width="1.3"/>
<text x="95.22" y="663.35" font-size="14.5" fill="#3e3e3e" text-anchor="end">4.0</text>
<line x1="100.00" y1="701.50" x2="109.00" y2="701.50" stroke="#1c1c1c" stroke-width="1.3"/>
<text x="95.22" y="706.60" font-size="14.5" fill="#3e3e3e" text-anchor="end">3.0</text>
<line x1="100.00" y1="744.75" x2="109.00" y2="744.75" stroke="#1c1c1c" stroke-width="1.3"/>
<text x="95.22" y="749.85" font-size="14.5" fill="#3e3e3e" text-anchor="end">2.0</text>
<line x1="100.00" y1="788.00" x2="109.00" y2="788.00" stroke="#1c1c1c" stroke-width="1.3"/>
<text x="95.22" y="793.10" font-size="14.5" fill="#3e3e3e" text-anchor="end">1.0</text>
<line x1="100.00" y1="831.25" x2="109.00" y2="831.25" stroke="#1c1c1c" stroke-width="1.3"/>
<text x="95.22" y="836.35" font-size="14.5" fill="#3e3e3e" text-anchor="end">0.0</text>
<line x1="104.50" y1="636.62" x2="108.10" y2="636.62" stroke="#1c1c1c" stroke-width="1.1"/>
<line x1="104.50" y1="679.88" x2="108.10" y2="679.88" stroke="#1c1c1c" stroke-width="1.1"/>
<line x1="104.50" y1="723.12" x2="108.10" y2="723.12" stroke="#1c1c1c" stroke-width="1.1"/>
<line x1="104.50" y1="766.38" x2="108.10" y2="766.38" stroke="#1c1c1c" stroke-width="1.1"/>
<line x1="104.50" y1="809.62" x2="108.10" y2="809.62" stroke="#1c1c1c" stroke-width="1.1"/>
<text x="127.96" y="646.25" font-size="21.5" fill="#262626" text-anchor="start">Mn</text>
<rect x="117.00" y="913.00" width="16.00" height="138.25" fill="#c7be96" stroke="#1a1a1a" stroke-width="0.8"/>
<rect x="133.00" y="1017.50" width="15.90" height="33.75" fill="#4b4225" stroke="#1a1a1a" stroke-width="0.8"/>
<line x1="125.50" y1="903.50" x2="125.50" y2="923.50" stroke="#1a1a1a" stroke-width="0.85"/>
<line x1="122.25" y1="903.50" x2="128.75" y2="903.50" stroke="#1a1a1a" stroke-width="0.85"/>
<line x1="122.25" y1="923.50" x2="128.75" y2="923.50" stroke="#1a1a1a" stroke-width="0.85"/>
<line x1="140.50" y1="1017.50" x2="140.50" y2="1018.50" stroke="#1a1a1a" stroke-width="0.85"/>
<line x1="137.25" y1="1017.50" x2="143.75" y2="1017.50" stroke="#1a1a1a" stroke-width="0.85"/>
<line x1="137.25" y1="1018.50" x2="143.75" y2="1018.50" stroke="#1a1a1a" stroke-width="0.85"/>
<rect x="173.25" y="883.75" width="16.25" height="167.50" fill="#c7be96" stroke="#1a1a1a" stroke-width="0.8"/>
<rect x="189.50" y="974.50" width="16.30" height="76.75" fill="#4b4225" stroke="#1a1a1a" stroke-width="0.8"/>
<line x1="181.50" y1="868.50" x2="181.50" y2="899.50" stroke="#1a1a1a" stroke-width="0.85"/>
<line x1="178.25" y1="868.50" x2="184.75" y2="868.50" stroke="#1a1a1a" stroke-width="0.85"/>
<line x1="178.25" y1="899.50" x2="184.75" y2="899.50" stroke="#1a1a1a" stroke-width="0.85"/>
<line x1="197.50" y1="970.50" x2="197.50" y2="978.50" stroke="#1a1a1a" stroke-width="0.85"/>
<line x1="194.25" y1="970.50" x2="200.75" y2="970.50" stroke="#1a1a1a" stroke-width="0.85"/>
<line x1="194.25" y1="978.50" x2="200.75" y2="978.50" stroke="#1a1a1a" stroke-width="0.85"/>
<rect x="230.00" y="881.75" width="16.25" height="169.50" fill="#c7be96" stroke="#1a1a1a" stroke-width="0.8"/>
<rect x="246.25" y="916.50" width="16.35" height="134.75" fill="#4b4225" stroke="#1a1a1a" stroke-width="0.8"/>
<line x1="238.50" y1="874.50" x2="238.50" y2="888.50" stroke="#1a1a1a" stroke-width="0.85"/>
<line x1="235.25" y1="874.50" x2="241.75" y2="874.50" stroke="#1a1a1a" stroke-width="0.85"/>
<line x1="235.25" y1="888.50" x2="241.75" y2="888.50" stroke="#1a1a1a" stroke-width="0.85"/>
<line x1="254.50" y1="911.50" x2="254.50" y2="921.50" stroke="#1a1a1a" stroke-width="0.85"/>
<line x1="251.25" y1="911.50" x2="257.75" y2="911.50" stroke="#1a1a1a" stroke-width="0.85"/>
<line x1="251.25" y1="921.50" x2="257.75" y2="921.50" stroke="#1a1a1a" stroke-width="0.85"/>
<rect x="343.00" y="992.50" width="16.50" height="58.75" fill="#c7be96" stroke="#1a1a1a" stroke-width="0.8"/>
<rect x="359.50" y="1047.00" width="16.50" height="4.25" fill="#4b4225" stroke="#1a1a1a" stroke-width="0.8"/>
<line x1="351.50" y1="988.50" x2="351.50" y2="996.50" stroke="#1a1a1a" stroke-width="0.85"/>
<line x1="348.25" y1="988.50" x2="354.75" y2="988.50" stroke="#1a1a1a" stroke-width="0.85"/>
<line x1="348.25" y1="996.50" x2="354.75" y2="996.50" stroke="#1a1a1a" stroke-width="0.85"/>
<line x1="367.50" y1="1046.50" x2="367.50" y2="1047.50" stroke="#1a1a1a" stroke-width="0.85"/>
<line x1="364.25" y1="1046.50" x2="370.75" y2="1046.50" stroke="#1a1a1a" stroke-width="0.85"/>
<line x1="364.25" y1="1047.50" x2="370.75" y2="1047.50" stroke="#1a1a1a" stroke-width="0.85"/>
<rect x="399.50" y="987.00" width="16.50" height="64.25" fill="#c7be96" stroke="#1a1a1a" stroke-width="0.8"/>
<rect x="416.00" y="1044.50" width="16.60" height="6.75" fill="#4b4225" stroke="#1a1a1a" stroke-width="0.8"/>
<line x1="407.50" y1="966.50" x2="407.50" y2="1007.50" stroke="#1a1a1a" stroke-width="0.85"/>
<line x1="404.25" y1="966.50" x2="410.75" y2="966.50" stroke="#1a1a1a" stroke-width="0.85"/>
<line x1="404.25" y1="1007.50" x2="410.75" y2="1007.50" stroke="#1a1a1a" stroke-width="0.85"/>
<line x1="424.50" y1="1040.50" x2="424.50" y2="1048.50" stroke="#1a1a1a" stroke-width="0.85"/>
<line x1="421.25" y1="1040.50" x2="427.75" y2="1040.50" stroke="#1a1a1a" stroke-width="0.85"/>
<line x1="421.25" y1="1048.50" x2="427.75" y2="1048.50" stroke="#1a1a1a" stroke-width="0.85"/>
<rect x="455.75" y="980.75" width="16.75" height="70.50" fill="#c7be96" stroke="#1a1a1a" stroke-width="0.8"/>
<rect x="472.50" y="1036.25" width="16.25" height="15.00" fill="#4b4225" stroke="#1a1a1a" stroke-width="0.8"/>
<line x1="464.50" y1="976.50" x2="464.50" y2="985.50" stroke="#1a1a1a" stroke-width="0.85"/>
<line x1="461.25" y1="976.50" x2="467.75" y2="976.50" stroke="#1a1a1a" stroke-width="0.85"/>
<line x1="461.25" y1="985.50" x2="467.75" y2="985.50" stroke="#1a1a1a" stroke-width="0.85"/>
<line x1="480.50" y1="1035.50" x2="480.50" y2="1036.50" stroke="#1a1a1a" stroke-width="0.85"/>
<line x1="477.25" y1="1035.50" x2="483.75" y2="1035.50" stroke="#1a1a1a" stroke-width="0.85"/>
<line x1="477.25" y1="1036.50" x2="483.75" y2="1036.50" stroke="#1a1a1a" stroke-width="0.85"/>
<line x1="104.50" y1="837.50" x2="501.50" y2="837.50" stroke="#1c1c1c" stroke-width="1.5"/>
<line x1="500.75" y1="837.50" x2="500.75" y2="1051.25" stroke="#1c1c1c" stroke-width="1.5"/>
<line x1="104.50" y1="836.90" x2="104.50" y2="1052.00" stroke="#1c1c1c" stroke-width="2.0"/>
<line x1="103.75" y1="1051.25" x2="501.35" y2="1051.25" stroke="#1c1c1c" stroke-width="1.8"/>
<line x1="161.11" y1="1047.25" x2="161.11" y2="1055.25" stroke="#1c1c1c" stroke-width="1.3"/>
<line x1="217.71" y1="1047.25" x2="217.71" y2="1055.25" stroke="#1c1c1c" stroke-width="1.3"/>
<line x1="274.32" y1="1047.25" x2="274.32" y2="1055.25" stroke="#1c1c1c" stroke-width="1.3"/>
<line x1="330.93" y1="1047.25" x2="330.93" y2="1055.25" stroke="#1c1c1c" stroke-width="1.3"/>
<line x1="387.54" y1="1047.25" x2="387.54" y2="1055.25" stroke="#1c1c1c" stroke-width="1.3"/>
<line x1="444.14" y1="1047.25" x2="444.14" y2="1055.25" stroke="#1c1c1c" stroke-width="1.3"/>
<line x1="500.75" y1="1047.25" x2="500.75" y2="1055.25" stroke="#1c1c1c" stroke-width="1.3"/>
<line x1="100.00" y1="879.50" x2="109.00" y2="879.50" stroke="#1c1c1c" stroke-width="1.3"/>
<text x="95.22" y="887.00" font-size="14.5" fill="#3e3e3e" text-anchor="end">0.4</text>
<line x1="100.00" y1="922.40" x2="109.00" y2="922.40" stroke="#1c1c1c" stroke-width="1.3"/>
<text x="95.22" y="929.90" font-size="14.5" fill="#3e3e3e" text-anchor="end">0.3</text>
<line x1="100.00" y1="965.40" x2="109.00" y2="965.40" stroke="#1c1c1c" stroke-width="1.3"/>
<text x="95.22" y="972.90" font-size="14.5" fill="#3e3e3e" text-anchor="end">0.2</text>
<line x1="100.00" y1="1008.30" x2="109.00" y2="1008.30" stroke="#1c1c1c" stroke-width="1.3"/>
<text x="95.22" y="1015.80" font-size="14.5" fill="#3e3e3e" text-anchor="end">0.1</text>
<line x1="100.00" y1="1051.25" x2="109.00" y2="1051.25" stroke="#1c1c1c" stroke-width="1.3"/>
<text x="95.22" y="1058.75" font-size="14.5" fill="#3e3e3e" text-anchor="end">0.0</text>
<line x1="100.00" y1="837.50" x2="109.00" y2="837.50" stroke="#1c1c1c" stroke-width="1.3"/>
<text x="128.31" y="868.75" font-size="21.56" fill="#262626" text-anchor="start">Ba</text>
<rect x="290.65" y="635.35" width="15.40" height="14.40" fill="#c7be96" stroke="#000" stroke-width="1.9"/>
<rect x="290.65" y="669.25" width="15.40" height="13.60" fill="#4b4225" stroke="#000" stroke-width="1.9"/>
<text x="319.46" y="647.60" font-size="17.3" fill="#262626" text-anchor="start" letter-spacing="-0.186">Cu(II)-exchangeable</text>
<text x="319.46" y="681.20" font-size="17.3" fill="#262626" text-anchor="start" letter-spacing="-0.004">Reducible</text>
<text x="133.50" y="1071.25" font-size="14.71" fill="#3e3e3e" text-anchor="middle">1st</text>
<text x="188.10" y="1071.25" font-size="14.12" fill="#3e3e3e" text-anchor="middle">2nd</text>
<text x="242.75" y="1071.25" font-size="14.6" fill="#3e3e3e" text-anchor="middle">3rd</text>
<text x="352.90" y="1071.25" font-size="14.71" fill="#3e3e3e" text-anchor="middle">1st</text>
<text x="407.25" y="1071.25" font-size="14.12" fill="#3e3e3e" text-anchor="middle">2nd</text>
<text x="461.60" y="1071.25" font-size="14.6" fill="#3e3e3e" text-anchor="middle">3rd</text>
<text x="123.65" y="1092.50" font-size="14.23" fill="#3e3e3e" text-anchor="start">Newly formed BMO</text>
<text x="369.14" y="1092.50" font-size="14.33" fill="#3e3e3e" text-anchor="start">Heated BMO</text>
<text x="47.50" y="840.50" font-size="21.37" fill="#262626" text-anchor="middle" transform="rotate(-90 47.50 840.50)">Extracted Ba and Mn (mM)</text>
</g>
<g id="panelD">
<text x="638.48" y="590.00" font-size="25.3" fill="#262626" text-anchor="start" letter-spacing="0.133">(D) Relationships between Ba</text>
<text x="638.48" y="620.75" font-size="25.3" fill="#262626" text-anchor="start" letter-spacing="0.126">and Mn in the reducible phases</text>
<ellipse cx="691.0" cy="998.9" rx="31.7" ry="28.0" fill="none" stroke="#6d8fb8" stroke-width="0.8" stroke-dasharray="0.9 1.1"/>
<text x="634.15" y="986.80" font-size="12.52" fill="#4d4d4d" text-anchor="start">Heated</text>
<text x="634.14" y="1002.50" font-size="12.67" fill="#4d4d4d" text-anchor="start">BMOs</text>
<line x1="897.50" y1="835.00" x2="897.50" y2="855.00" stroke="#606060" stroke-width="0.8"/>
<line x1="895.00" y1="835.00" x2="900.00" y2="835.00" stroke="#606060" stroke-width="0.8"/>
<line x1="895.00" y1="855.00" x2="900.00" y2="855.00" stroke="#606060" stroke-width="0.8"/>
<line x1="831.75" y1="839.00" x2="831.75" y2="857.00" stroke="#606060" stroke-width="0.8"/>
<line x1="829.25" y1="839.00" x2="834.25" y2="839.00" stroke="#606060" stroke-width="0.8"/>
<line x1="829.25" y1="857.00" x2="834.25" y2="857.00" stroke="#606060" stroke-width="0.8"/>
<line x1="822.25" y1="848.00" x2="841.25" y2="848.00" stroke="#606060" stroke-width="0.8"/>
<line x1="822.25" y1="845.50" x2="822.25" y2="850.50" stroke="#606060" stroke-width="0.8"/>
<line x1="841.25" y1="845.50" x2="841.25" y2="850.50" stroke="#606060" stroke-width="0.8"/>
<line x1="893.20" y1="706.60" x2="893.20" y2="728.00" stroke="#606060" stroke-width="0.8"/>
<line x1="890.70" y1="706.60" x2="895.70" y2="706.60" stroke="#606060" stroke-width="0.8"/>
<line x1="890.70" y1="728.00" x2="895.70" y2="728.00" stroke="#606060" stroke-width="0.8"/>
<line x1="887.70" y1="717.30" x2="898.70" y2="717.30" stroke="#606060" stroke-width="0.8"/>
<line x1="887.70" y1="714.80" x2="887.70" y2="719.80" stroke="#606060" stroke-width="0.8"/>
<line x1="898.70" y1="714.80" x2="898.70" y2="719.80" stroke="#606060" stroke-width="0.8"/>
<line x1="880.40" y1="757.10" x2="880.40" y2="772.50" stroke="#606060" stroke-width="0.8"/>
<line x1="877.90" y1="757.10" x2="882.90" y2="757.10" stroke="#606060" stroke-width="0.8"/>
<line x1="877.90" y1="772.50" x2="882.90" y2="772.50" stroke="#606060" stroke-width="0.8"/>
<line x1="757.00" y1="939.50" x2="757.00" y2="946.50" stroke="#606060" stroke-width="0.8"/>
<line x1="754.50" y1="939.50" x2="759.50" y2="939.50" stroke="#606060" stroke-width="0.8"/>
<line x1="754.50" y1="946.50" x2="759.50" y2="946.50" stroke="#606060" stroke-width="0.8"/>
<line x1="750.50" y1="943.00" x2="763.50" y2="943.00" stroke="#606060" stroke-width="0.8"/>
<line x1="750.50" y1="940.50" x2="750.50" y2="945.50" stroke="#606060" stroke-width="0.8"/>
<line x1="763.50" y1="940.50" x2="763.50" y2="945.50" stroke="#606060" stroke-width="0.8"/>
<circle cx="672.23" cy="1012.26" r="5.0" fill="none" stroke="#111111" stroke-width="0.7"/>
<circle cx="680.77" cy="1006.31" r="5.0" fill="none" stroke="#111111" stroke-width="0.7"/>
<circle cx="684.90" cy="1005.92" r="5.0" fill="none" stroke="#111111" stroke-width="0.7"/>
<rect x="673.20" y="1007.93" width="10.00" height="10.00" fill="none" stroke="#111111" stroke-width="0.7"/>
<rect x="674.30" y="1005.05" width="10.00" height="10.00" fill="none" stroke="#111111" stroke-width="0.7"/>
<rect x="676.14" y="1003.13" width="10.00" height="10.00" fill="none" stroke="#111111" stroke-width="0.7"/>
<rect x="679.09" y="994.20" width="10.00" height="10.00" fill="none" stroke="#111111" stroke-width="0.7"/>
<path d="M678.86 1004.16 L684.16 1014.56 L673.56 1014.56 Z" fill="none" stroke="#111111" stroke-width="0.7" stroke-linejoin="miter"/>
<path d="M686.59 994.27 L691.89 1004.67 L681.29 1004.67 Z" fill="none" stroke="#111111" stroke-width="0.7" stroke-linejoin="miter"/>
<path d="M688.36 987.54 L693.66 997.94 L683.06 997.94 Z" fill="none" stroke="#111111" stroke-width="0.7" stroke-linejoin="miter"/>
<path d="M679.89 1005.89 L685.59 1011.59 L679.89 1017.29 L674.19 1011.59 Z" fill="none" stroke="#111111" stroke-width="0.7"/>
<path d="M682.02 1000.32 L687.72 1006.02 L682.02 1011.72 L676.32 1006.02 Z" fill="none" stroke="#111111" stroke-width="0.7"/>
<path d="M703.60 981.11 L709.30 986.81 L703.60 992.51 L697.90 986.81 Z" fill="none" stroke="#111111" stroke-width="0.7"/>
<line x1="756.97" y1="952.20" x2="893.20" y2="727.40" stroke="#ff0000" stroke-width="2.25" stroke-linecap="round" stroke-dasharray="0.01 3.6"/>
<path d="M757.00 937.00 L762.30 943.00 L757.00 949.00 L751.70 943.00 Z" fill="#ff0000" stroke="#2c3f6e" stroke-width="0.8"/>
<path d="M831.75 842.00 L837.05 848.00 L831.75 854.00 L826.45 848.00 Z" fill="#ff0000" stroke="#2c3f6e" stroke-width="0.8"/>
<path d="M893.20 711.30 L898.50 717.30 L893.20 723.30 L887.90 717.30 Z" fill="#ff0000" stroke="#2c3f6e" stroke-width="0.8"/>
<line x1="746.25" y1="951.90" x2="880.40" y2="768.50" stroke="#1ea7cb" stroke-width="2.25" stroke-linecap="round" stroke-dasharray="0.01 3.6"/>
<path d="M746.25 945.85 L751.75 956.65 L740.75 956.65 Z" fill="#1ea7cb" stroke="#17475a" stroke-width="0.8" stroke-linejoin="miter"/>
<path d="M810.50 866.60 L816.00 877.40 L805.00 877.40 Z" fill="#1ea7cb" stroke="#17475a" stroke-width="0.8" stroke-linejoin="miter"/>
<path d="M880.40 759.40 L885.90 770.20 L874.90 770.20 Z" fill="#1ea7cb" stroke="#17475a" stroke-width="0.8" stroke-linejoin="miter"/>
<line x1="736.50" y1="967.10" x2="878.60" y2="817.10" stroke="#8cbb4b" stroke-width="2.25" stroke-linecap="round" stroke-dasharray="0.01 3.6"/>
<rect x="731.20" y="960.95" width="10.60" height="10.60" fill="#8cbb4b" stroke="#3f4f22" stroke-width="0.8"/>
<rect x="802.20" y="883.95" width="10.60" height="10.60" fill="#8cbb4b" stroke="#3f4f22" stroke-width="0.8"/>
<rect x="873.30" y="812.40" width="10.60" height="10.60" fill="#8cbb4b" stroke="#3f4f22" stroke-width="0.8"/>
<line x1="732.00" y1="979.60" x2="897.50" y2="846.80" stroke="#ffc000" stroke-width="2.25" stroke-linecap="round" stroke-dasharray="0.01 3.6"/>
<circle cx="732.00" cy="977.50" r="5.2" fill="#ffc000" stroke="#4a3c00" stroke-width="0.7"/>
<circle cx="805.50" cy="922.50" r="5.2" fill="#ffc000" stroke="#4a3c00" stroke-width="0.7"/>
<circle cx="897.50" cy="845.00" r="5.2" fill="#ffc000" stroke="#4a3c00" stroke-width="0.7"/>
<line x1="602.00" y1="637.00" x2="1024.00" y2="637.00" stroke="#383838" stroke-width="1.9"/>
<line x1="1024.00" y1="636.05" x2="1024.00" y2="1022.05" stroke="#383838" stroke-width="1.9"/>
<line x1="602.00" y1="636.05" x2="602.00" y2="1022.05" stroke="#383838" stroke-width="1.9"/>
<line x1="602.00" y1="1021.10" x2="1024.00" y2="1021.10" stroke="#383838" stroke-width="1.9"/>
<text x="603.70" y="1047.30" font-size="18.6" fill="#3a3a3a" text-anchor="middle" letter-spacing="0.195">0.0</text>
<line x1="638.81" y1="1018.30" x2="638.81" y2="1021.10" stroke="#222222" stroke-width="1.0"/>
<line x1="675.62" y1="1017.70" x2="675.62" y2="1024.50" stroke="#222222" stroke-width="1.2"/>
<text x="677.57" y="1047.30" font-size="18.6" fill="#3a3a3a" text-anchor="middle" letter-spacing="0.195">1.0</text>
<line x1="712.43" y1="1018.30" x2="712.43" y2="1021.10" stroke="#222222" stroke-width="1.0"/>
<line x1="749.24" y1="1017.70" x2="749.24" y2="1024.50" stroke="#222222" stroke-width="1.2"/>
<text x="751.44" y="1047.30" font-size="18.6" fill="#3a3a3a" text-anchor="middle" letter-spacing="0.195">2.0</text>
<line x1="786.05" y1="1018.30" x2="786.05" y2="1021.10" stroke="#222222" stroke-width="1.0"/>
<line x1="822.86" y1="1017.70" x2="822.86" y2="1024.50" stroke="#222222" stroke-width="1.2"/>
<text x="825.31" y="1047.30" font-size="18.6" fill="#3a3a3a" text-anchor="middle" letter-spacing="0.195">3.0</text>
<line x1="859.67" y1="1018.30" x2="859.67" y2="1021.10" stroke="#222222" stroke-width="1.0"/>
<line x1="896.48" y1="1017.70" x2="896.48" y2="1024.50" stroke="#222222" stroke-width="1.2"/>
<text x="899.18" y="1047.30" font-size="18.6" fill="#3a3a3a" text-anchor="middle" letter-spacing="0.195">4.0</text>
<line x1="933.29" y1="1018.30" x2="933.29" y2="1021.10" stroke="#222222" stroke-width="1.0"/>
<line x1="970.10" y1="1017.70" x2="970.10" y2="1024.50" stroke="#222222" stroke-width="1.2"/>
<text x="973.05" y="1047.30" font-size="18.6" fill="#3a3a3a" text-anchor="middle" letter-spacing="0.195">5.0</text>
<line x1="598.40" y1="1021.10" x2="604.80" y2="1021.10" stroke="#222222" stroke-width="1.2"/>
<text x="589.98" y="1026.50" font-size="15.8" fill="#3a3a3a" text-anchor="end" letter-spacing="0.187">0.0</text>
<line x1="602.00" y1="973.07" x2="604.90" y2="973.07" stroke="#222222" stroke-width="1.0"/>
<line x1="598.40" y1="925.04" x2="604.80" y2="925.04" stroke="#222222" stroke-width="1.2"/>
<text x="589.98" y="930.44" font-size="15.8" fill="#3a3a3a" text-anchor="end" letter-spacing="0.187">0.1</text>
<line x1="602.00" y1="877.01" x2="604.90" y2="877.01" stroke="#222222" stroke-width="1.0"/>
<line x1="598.40" y1="828.98" x2="604.80" y2="828.98" stroke="#222222" stroke-width="1.2"/>
<text x="589.98" y="834.38" font-size="15.8" fill="#3a3a3a" text-anchor="end" letter-spacing="0.187">0.2</text>
<line x1="602.00" y1="780.95" x2="604.90" y2="780.95" stroke="#222222" stroke-width="1.0"/>
<line x1="598.40" y1="732.92" x2="604.80" y2="732.92" stroke="#222222" stroke-width="1.2"/>
<text x="589.98" y="738.32" font-size="15.8" fill="#3a3a3a" text-anchor="end" letter-spacing="0.187">0.3</text>
<line x1="602.00" y1="684.89" x2="604.90" y2="684.89" stroke="#222222" stroke-width="1.0"/>
<line x1="598.40" y1="636.86" x2="604.80" y2="636.86" stroke="#222222" stroke-width="1.2"/>
<text x="589.98" y="642.26" font-size="15.8" fill="#3a3a3a" text-anchor="end" letter-spacing="0.187">0.4</text>
<text x="551.80" y="810.60" font-size="20.86" fill="#262626" text-anchor="middle" transform="rotate(-90 551.80 810.60)">Ba in reducible phase (mM)</text>
<text x="693.25" y="1086.60" font-size="20.88" fill="#262626" text-anchor="start">Mn in reducible phase (mM)</text>
<text x="904.91" y="702.50" font-size="14.0" fill="#444444" text-anchor="start" letter-spacing="-0.029">(d) Ba/Mn = 0.127</text>
<text x="924.66" y="723.00" font-size="14.0" fill="#444444" text-anchor="start" letter-spacing="0.049">R² = 0.9795</text>
<text x="905.91" y="750.00" font-size="14.0" fill="#444444" text-anchor="start" letter-spacing="-0.008">(c) Ba/Mn = 0.107</text>
<text x="932.41" y="770.00" font-size="14.0" fill="#444444" text-anchor="start" letter-spacing="0.049">R² = 0.9959</text>
<text x="907.16" y="800.00" font-size="14.0" fill="#444444" text-anchor="start" letter-spacing="-0.010">(b) Ba/Mn = 0.080</text>
<text x="932.91" y="820.00" font-size="14.0" fill="#444444" text-anchor="start" letter-spacing="0.124">R² = 0.9998</text>
<text x="907.06" y="846.50" font-size="14.0" fill="#444444" text-anchor="start" letter-spacing="-0.026">(a) Ba/Mn = 0.062</text>
<text x="935.16" y="864.00" font-size="14.0" fill="#444444" text-anchor="start" letter-spacing="-0.301">R² = 0.9991</text>
<rect x="694.25" y="662.5" width="110.55" height="97.50" fill="#ffffff" stroke="#9a9a9a" stroke-width="0.8"/>
<line x1="694.25" y1="662.50" x2="694.25" y2="760.00" stroke="#7a7a7a" stroke-width="0.9"/>
<line x1="694.25" y1="760.00" x2="804.80" y2="760.00" stroke="#7a7a7a" stroke-width="0.9"/>
<line x1="694.25" y1="756.80" x2="694.25" y2="763.20" stroke="#6b6b6b" stroke-width="0.9"/>
<text x="694.25" y="780.75" font-size="11" fill="#555555" text-anchor="middle">0</text>
<line x1="703.46" y1="758.00" x2="703.46" y2="760.00" stroke="#6b6b6b" stroke-width="0.8"/>
<line x1="712.67" y1="756.80" x2="712.67" y2="763.20" stroke="#6b6b6b" stroke-width="0.9"/>
<text x="712.67" y="780.75" font-size="11" fill="#555555" text-anchor="middle">2</text>
<line x1="721.89" y1="758.00" x2="721.89" y2="760.00" stroke="#6b6b6b" stroke-width="0.8"/>
<line x1="731.10" y1="756.80" x2="731.10" y2="763.20" stroke="#6b6b6b" stroke-width="0.9"/>
<text x="731.10" y="780.75" font-size="11" fill="#555555" text-anchor="middle">4</text>
<line x1="740.31" y1="758.00" x2="740.31" y2="760.00" stroke="#6b6b6b" stroke-width="0.8"/>
<line x1="749.52" y1="756.80" x2="749.52" y2="763.20" stroke="#6b6b6b" stroke-width="0.9"/>
<text x="749.52" y="780.75" font-size="11" fill="#555555" text-anchor="middle">6</text>
<line x1="758.74" y1="758.00" x2="758.74" y2="760.00" stroke="#6b6b6b" stroke-width="0.8"/>
<line x1="767.95" y1="756.80" x2="767.95" y2="763.20" stroke="#6b6b6b" stroke-width="0.9"/>
<text x="767.95" y="780.75" font-size="11" fill="#555555" text-anchor="middle">8</text>
<line x1="777.16" y1="758.00" x2="777.16" y2="760.00" stroke="#6b6b6b" stroke-width="0.8"/>
<line x1="786.38" y1="756.80" x2="786.38" y2="763.20" stroke="#6b6b6b" stroke-width="0.9"/>
<text x="787.17" y="780.75" font-size="11" fill="#555555" text-anchor="middle">10</text>
<line x1="795.59" y1="758.00" x2="795.59" y2="760.00" stroke="#6b6b6b" stroke-width="0.8"/>
<line x1="804.80" y1="756.80" x2="804.80" y2="763.20" stroke="#6b6b6b" stroke-width="0.9"/>
<text x="805.60" y="780.75" font-size="11" fill="#555555" text-anchor="middle">12</text>
<line x1="690.25" y1="760.00" x2="697.45" y2="760.00" stroke="#6b6b6b" stroke-width="0.9"/>
<text x="681.27" y="764.30" font-size="11.3" fill="#555555" text-anchor="end">0.00</text>
<line x1="690.25" y1="727.50" x2="697.45" y2="727.50" stroke="#6b6b6b" stroke-width="0.9"/>
<text x="681.27" y="731.80" font-size="11.3" fill="#555555" text-anchor="end">0.05</text>
<line x1="690.25" y1="695.00" x2="697.45" y2="695.00" stroke="#6b6b6b" stroke-width="0.9"/>
<text x="681.27" y="699.30" font-size="11.3" fill="#555555" text-anchor="end">0.10</text>
<line x1="690.25" y1="662.50" x2="697.45" y2="662.50" stroke="#6b6b6b" stroke-width="0.9"/>
<text x="681.27" y="666.80" font-size="11.3" fill="#555555" text-anchor="end">0.15</text>
<path d="M695.23 719.00 C696.83 713.50 699.86 712.30 703.06 707.30 C708.06 699.50 713.49 695.15 721.49 689.75 C739.49 680.15 757.98 679.15 785.98 676.75 L790.18 676.45" fill="none" stroke="#2a2a2a" stroke-width="1.5"/>
<circle cx="695.23" cy="719.00" r="3.4" fill="#7f7f7f" stroke="#4d4d4d" stroke-width="0.8"/>
<circle cx="703.06" cy="707.30" r="3.4" fill="#7f7f7f" stroke="#4d4d4d" stroke-width="0.8"/>
<circle cx="721.49" cy="689.75" r="3.4" fill="#7f7f7f" stroke="#4d4d4d" stroke-width="0.8"/>
<circle cx="785.98" cy="676.75" r="3.4" fill="#7f7f7f" stroke="#4d4d4d" stroke-width="0.8"/>
<text x="648.61" y="715.50" font-size="16.4" fill="#333333" text-anchor="middle" letter-spacing="1.226" transform="rotate(-90 648.00 715.50)">Ba/Mn</text>
<text x="712.16" y="807.50" font-size="18.13" fill="#333333" text-anchor="start">Ba (mM)</text>
</g>
</svg>
</body></html>
